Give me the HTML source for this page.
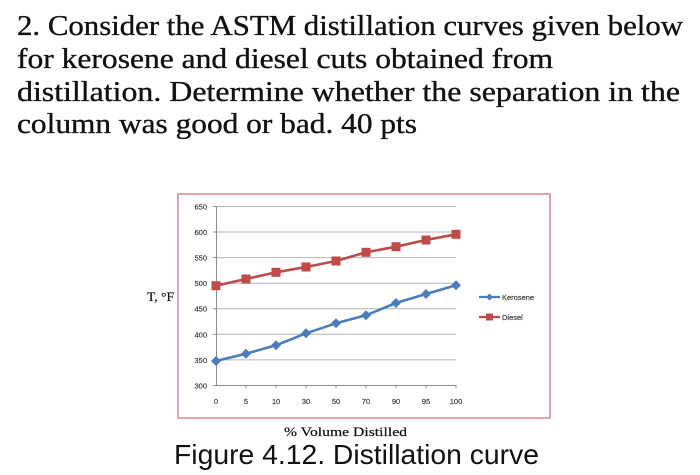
<!DOCTYPE html>
<html>
<head>
<meta charset="utf-8">
<style>
  html,body{margin:0;padding:0;background:#fff;}
  svg{display:block;}
</style>
</head>
<body>
<svg width="700" height="475" viewBox="0 0 700 475" xmlns="http://www.w3.org/2000/svg">
  <rect x="0" y="0" width="700" height="475" fill="#fff"/>
  <!-- Question text -->
  <g font-family="'Liberation Serif', serif" font-size="28" fill="#111" stroke="#111" stroke-width="0.35">
    <text x="17" y="35" textLength="666" lengthAdjust="spacingAndGlyphs">2. Consider the ASTM distillation curves given below</text>
    <text x="17" y="68" textLength="536" lengthAdjust="spacingAndGlyphs">for kerosene and diesel cuts obtained from</text>
    <text x="17" y="101" textLength="663" lengthAdjust="spacingAndGlyphs">distillation. Determine whether the separation in the</text>
    <text x="17" y="133" textLength="400" lengthAdjust="spacingAndGlyphs">column was good or bad. 40 pts</text>
  </g>

  <!-- Chart border -->
  <rect x="178" y="194" width="372" height="224" fill="#fff" stroke="#e2a3aa" stroke-width="2"/>

  <!-- gridlines -->
  <g stroke="#b4b4b4" stroke-width="1">
    <line x1="216" y1="206.5" x2="456" y2="206.5"/>
    <line x1="216" y1="232.0" x2="456" y2="232.0"/>
    <line x1="216" y1="257.6" x2="456" y2="257.6"/>
    <line x1="216" y1="283.2" x2="456" y2="283.2"/>
    <line x1="216" y1="308.7" x2="456" y2="308.7"/>
    <line x1="216" y1="334.3" x2="456" y2="334.3"/>
    <line x1="216" y1="359.9" x2="456" y2="359.9"/>
  </g>
  <!-- axes -->
  <g stroke="#8c8c8c" stroke-width="1">
    <line x1="216.5" y1="206" x2="216.5" y2="385.5"/>
    <line x1="216" y1="385.5" x2="456" y2="385.5"/>
    <line x1="213" y1="206.5" x2="216" y2="206.5"/>
    <line x1="213" y1="232" x2="216" y2="232"/>
    <line x1="213" y1="257.6" x2="216" y2="257.6"/>
    <line x1="213" y1="283.2" x2="216" y2="283.2"/>
    <line x1="213" y1="308.7" x2="216" y2="308.7"/>
    <line x1="213" y1="334.3" x2="216" y2="334.3"/>
    <line x1="213" y1="359.9" x2="216" y2="359.9"/>
    <line x1="213" y1="385.5" x2="216" y2="385.5"/>
    <line x1="246" y1="385" x2="246" y2="388"/>
    <line x1="276" y1="385" x2="276" y2="388"/>
    <line x1="306" y1="385" x2="306" y2="388"/>
    <line x1="336" y1="385" x2="336" y2="388"/>
    <line x1="366" y1="385" x2="366" y2="388"/>
    <line x1="396" y1="385" x2="396" y2="388"/>
    <line x1="426" y1="385" x2="426" y2="388"/>
    <line x1="456" y1="385" x2="456" y2="388"/>
  </g>

  <!-- y labels -->
  <g font-family="'Liberation Sans', sans-serif" font-size="7.5" fill="#333" stroke="#333" stroke-width="0.15" text-anchor="end">
    <text x="207" y="209.5">650</text>
    <text x="207" y="235">600</text>
    <text x="207" y="260.6">550</text>
    <text x="207" y="286.2">500</text>
    <text x="207" y="311.7">450</text>
    <text x="207" y="337.3">400</text>
    <text x="207" y="362.9">350</text>
    <text x="207" y="388.5">300</text>
  </g>
  <!-- x labels -->
  <g font-family="'Liberation Sans', sans-serif" font-size="7.5" fill="#333" stroke="#333" stroke-width="0.15" text-anchor="middle">
    <text x="216" y="404">0</text>
    <text x="246" y="404">5</text>
    <text x="276" y="404">10</text>
    <text x="306" y="404">30</text>
    <text x="336" y="404">50</text>
    <text x="366" y="404">70</text>
    <text x="396" y="404">90</text>
    <text x="426" y="404">95</text>
    <text x="456" y="404">100</text>
  </g>

  <!-- Kerosene -->
  <polyline fill="none" stroke="#4a7ebb" stroke-width="2.6" stroke-linejoin="round"
    points="216,361 246,353.7 276,345.3 306,333.3 336,323.3 366,315.3 396,303 426,294 456,285.3"/>
  <g fill="#4a7ebb">
    <path d="M216,356 L221,361 L216,366 L211,361 Z"/>
    <path d="M246,348.7 L251,353.7 L246,358.7 L241,353.7 Z"/>
    <path d="M276,340.3 L281,345.3 L276,350.3 L271,345.3 Z"/>
    <path d="M306,328.3 L311,333.3 L306,338.3 L301,333.3 Z"/>
    <path d="M336,318.3 L341,323.3 L336,328.3 L331,323.3 Z"/>
    <path d="M366,310.3 L371,315.3 L366,320.3 L361,315.3 Z"/>
    <path d="M396,298 L401,303 L396,308 L391,303 Z"/>
    <path d="M426,289 L431,294 L426,299 L421,294 Z"/>
    <path d="M456,280.3 L461,285.3 L456,290.3 L451,285.3 Z"/>
  </g>

  <!-- Diesel -->
  <polyline fill="none" stroke="#be4b48" stroke-width="2.6" stroke-linejoin="round"
    points="216,285.7 246,279 276,272.3 306,267 336,261 366,252.3 396,246.7 426,240 456,234.3"/>
  <g fill="#be4b48">
    <rect x="211.5" y="281.2" width="9" height="9"/>
    <rect x="241.5" y="274.5" width="9" height="9"/>
    <rect x="271.5" y="267.8" width="9" height="9"/>
    <rect x="301.5" y="262.5" width="9" height="9"/>
    <rect x="331.5" y="256.5" width="9" height="9"/>
    <rect x="361.5" y="247.8" width="9" height="9"/>
    <rect x="391.5" y="242.2" width="9" height="9"/>
    <rect x="421.5" y="235.5" width="9" height="9"/>
    <rect x="451.5" y="229.8" width="9" height="9"/>
  </g>

  <!-- Legend -->
  <line x1="479" y1="297" x2="500" y2="297" stroke="#4a7ebb" stroke-width="2.2"/>
  <path d="M489.5,293.5 L493,297 L489.5,300.5 L486,297 Z" fill="#4a7ebb"/>
  <line x1="479" y1="317" x2="500" y2="317" stroke="#be4b48" stroke-width="2.2"/>
  <rect x="486" y="313.5" width="7" height="7" fill="#be4b48"/>
  <g font-family="'Liberation Sans', sans-serif" font-size="7.5" fill="#333" stroke="#333" stroke-width="0.15">
    <text x="502" y="300">Kerosene</text>
    <text x="502" y="320">Diesel</text>
  </g>

  <!-- Axis titles -->
  <text x="147" y="301" font-family="'Liberation Serif', serif" font-size="12.5" fill="#111" stroke="#111" stroke-width="0.2" textLength="27" lengthAdjust="spacingAndGlyphs">T, °F</text>
  <text x="284" y="436" font-family="'Liberation Serif', serif" font-size="12.5" fill="#111" stroke="#111" stroke-width="0.2" textLength="123" lengthAdjust="spacingAndGlyphs">% Volume Distilled</text>

  <!-- Caption -->
  <text x="174" y="464" font-family="'Liberation Sans', sans-serif" font-size="28" fill="#111" textLength="365" lengthAdjust="spacingAndGlyphs">Figure 4.12. Distillation curve</text>
</svg>
</body>
</html>
